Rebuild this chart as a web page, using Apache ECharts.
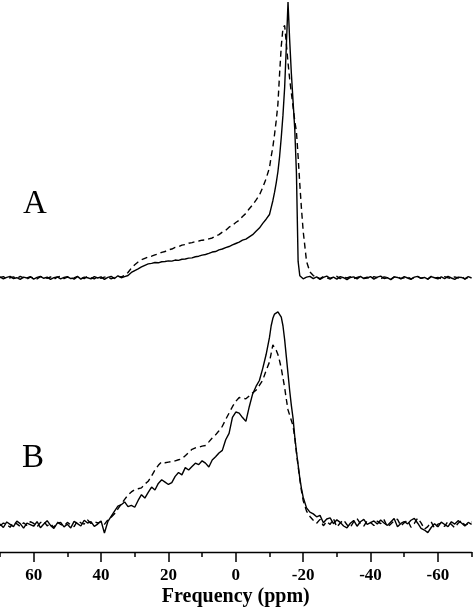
<!DOCTYPE html>
<html>
<head>
<meta charset="utf-8">
<title>Frequency (ppm)</title>
<script src="https://cdn.jsdelivr.net/npm/echarts@6/dist/echarts.min.js"></script>
<style>
  html, body { margin: 0; padding: 0; background: #fff; }
  #main { width: 474px; height: 609px; }
</style>
</head>
<body>
<div id="main"></div>
<script>
// chemical shift grid (ppm), finer near the peaks
var ppm = [
  70, 69, 68, 67, 66, 65, 64, 63, 62, 61,
  60, 59, 58, 57, 56, 55, 54, 53, 52, 51,
  50, 49, 48, 47, 46, 45, 44, 43, 42, 41,
  40, 39, 38, 37, 36, 35, 34, 33, 32, 31,
  30, 29, 28, 27, 26, 25, 24, 23, 22, 21,
  20, 19, 18, 17, 16, 15, 14, 13, 12, 11,
  10, 9, 8, 7, 6, 5, 4, 3, 2, 1,
  0, -1, -2, -3, -4, -5, -6, -7, -8, -9,
  -10,
  -10.5, -11, -11.5, -12, -12.5, -13, -13.5, -14, -14.5, -15,
  -15.5, -16, -16.5, -17, -17.5, -18, -18.5, -19, -19.5, -20,
  -21, -22, -23, -24, -25, -26, -27, -28, -29, -30,
  -31, -32, -33, -34, -35, -36, -37, -38, -39, -40,
  -41, -42, -43, -44, -45, -46, -47, -48, -49, -50,
  -51, -52, -53, -54, -55, -56, -57, -58, -59, -60,
  -61, -62, -63, -64, -65, -66, -67, -68, -69, -70
];

// axis range (ppm) and the range that carries the long labelled ticks
var axisRange = [-70, 70];
var labelRange = [-60, 60];

// spectrum A (normalised, solid peak = 100)
var aSolid = [
  0.4, -0.3, 0.2, 0.6, -0.2, 0.1, -0.5, 0.3, 0.0, 0.5,
  -0.4, 0.2, 0.6, -0.1, 0.3, -0.5, 0.1, 0.4, -0.3, 0.2,
  0.5, -0.2, 0.0, 0.6, -0.4, 0.3, 0.1, -0.3, 0.5, 0.0,
  0.4, -0.5, 0.2, 0.6, -0.2, 0.8, 0.1, 0.5, 0.9, 2.0,
  2.7, 3.3, 4.0, 4.6, 5.1, 5.3, 5.6, 5.5, 5.9, 6.0,
  6.2, 6.1, 6.5, 6.4, 6.8, 6.9, 7.2, 7.3, 7.7, 7.9,
  8.3, 8.5, 8.9, 9.4, 9.6, 10.2, 10.5, 11.0, 11.4, 12.0,
  12.5, 13.0, 13.7, 14.1, 14.9, 15.7, 16.9, 18.1, 19.8, 21.3,
  23.0,
  25.5, 28, 31, 34.5, 38.5, 44, 51, 59, 69, 84,
  100, 86, 74, 64, 54, 38, 6, 0.8, 0.2, -0.3,
  0.3, 0.6, -0.2, 0.4, -0.5, 0.2, 0.7, -0.1, 0.3, -0.4,
  0.5, 0.1, -0.6, 0.2, 0.4, -0.3, 0.6, -0.2, 0.0, 0.5,
  -0.4, 0.3, 0.7, -0.2, 0.1, -0.6, 0.4, 0.2, -0.3, 0.5,
  0.0, -0.5, 0.3, 0.6, -0.1, 0.2, -0.4, 0.5, 0.1, -0.3,
  0.4, -0.2, 0.6, 0.0, -0.5, 0.3, 0.2, -0.3, 0.5, 0.0
];
var aDash = [
  0.2, 0.5, -0.3, 0.1, 0.4, -0.2, 0.6, 0.0, -0.4, 0.3,
  0.1, -0.3, 0.5, 0.2, -0.1, 0.4, -0.5, 0.3, 0.6, -0.2,
  0.3, 0.0, -0.4, 0.5, 0.2, -0.2, 0.6, 0.1, -0.3, 0.4,
  -0.1, 0.3, 0.5, -0.3, 0.2, 0.6, 0.4, 0.9, 2.0, 3.6,
  4.8, 5.8, 6.6, 7.1, 7.6, 7.9, 8.4, 8.7, 9.3, 9.6,
  10.2, 10.5, 11.1, 11.3, 11.9, 12.1, 12.6, 12.8, 13.2, 13.4,
  13.7, 13.8, 14.2, 14.5, 15.2, 15.7, 16.6, 17.3, 18.4, 19.1,
  20.1, 20.9, 22.3, 23.4, 25.1, 26.5, 28.2, 30.0, 32.8, 36.0,
  40,
  44, 47.5, 52, 57, 63, 74, 84, 90.5, 91.5, 85,
  78, 72, 67, 62, 57, 53, 44, 34, 25, 17,
  6, 2.2, 0.9, 0.3, -0.2, 0.5, 0.1, -0.4, 0.3, 0.6,
  -0.2, 0.4, 0.0, 0.5, -0.3, 0.2, 0.6, -0.1, 0.3, -0.4,
  0.5, 0.1, -0.3, 0.4, 0.2, -0.5, 0.3, 0.6, -0.2, 0.1,
  0.4, -0.3, 0.2, 0.5, -0.1, 0.3, -0.4, 0.6, 0.0, 0.2,
  -0.3, 0.5, 0.1, -0.2, 0.4, 0.0, 0.6, -0.4, 0.2, 0.3
];

// spectrum B (normalised, solid peak = 100)
var bSolid = [
  0.5, -1.2, 1.4, 0.3, -0.8, 1.8, 0.6, -1.5, 0.9, 0.2,
  -0.6, 1.6, -1.3, 0.4, 2.0, -0.2, -1.6, 0.8, 1.2, -0.9,
  0.3, -1.4, 1.7, 0.6, -0.5, 2.2, 0.9, 1.6, -0.7, 0.4,
  1.9, -3.8, 1.5, 4.0, 6.5, 8.8, 9.5, 10.8, 8.6, 9.2,
  8.3, 11.5, 14.2, 12.6, 15.3, 17.8, 16.4, 19.5, 21.2, 20.1,
  19.0, 19.9, 22.8, 24.6, 23.5, 26.9, 25.8, 27.4, 29.0, 28.3,
  30.1, 29.0, 27.2, 30.5, 32.0, 33.8, 35.0, 40.0, 43.0, 50.5,
  53.0, 52.5, 50.4, 48.6, 55.5, 61.5, 65.0, 67.8, 73.5, 80.0,
  88.0,
  93.5, 97.0, 99.0, 98.6, 100, 99.6, 97.5, 93.5, 87, 79,
  71, 63, 56, 50, 41.5, 34.5, 28.2, 22, 17, 13,
  8.0, 6.0, 5.2, 3.8, 4.5, 1.0, 2.8, 3.3, 0.6, 2.4,
  1.2, -0.5, -1.4, 0.8, 2.1, -0.6, 1.5, 2.6, 0.3, 1.1,
  1.9, 0.4, 2.3, 0.9, -0.2, 1.4, 3.0, -0.8, 0.7, 1.6,
  0.5, 2.2, 3.1, 0.8, -1.6, -2.4, -3.6, -1.2, 0.6, -0.9,
  1.3, 0.2, -0.8, 1.5, 0.4, 2.0, 0.9, -0.5, 1.2, 0.3
];
var bDash = [
  -0.4, 0.9, 0.2, -1.1, 1.3, 0.5, -0.7, 1.0, -0.3, 1.5,
  0.7, -0.9, 1.1, 1.8, -0.4, 0.6, -1.2, 1.4, 0.3, -0.5,
  1.2, 0.1, -0.8, 1.9, 1.0, 0.4, 2.3, 0.7, 1.5, 0.9,
  1.6, 0.3, 2.4, 3.6, 5.2, 7.5, 9.8, 12.0, 14.0, 15.5,
  16.6, 17.0, 17.4, 19.2, 20.5, 23.0, 25.8, 28.0, 29.6, 29.2,
  29.5, 29.8, 30.1, 30.6, 31.0, 32.5, 34.0, 35.5, 36.2, 36.5,
  37.0, 37.3, 39.0, 40.8, 42.3, 44.2, 46.3, 49.5, 52.5, 55.5,
  58.0, 59.8, 59.5, 59.2, 60.6, 62.0, 63.2, 65.5, 68.0, 72.5,
  76.5,
  80.5, 84.5, 84.0, 82.0, 80.0, 77.0, 73.5, 69.0, 64.5, 59.0,
  54.0, 51.5, 49.0, 46.5, 41.0, 34.0, 27.5, 21.5, 16.0, 11.5,
  6.5, 4.0, 2.2, 0.8, 2.6, -0.4, 1.7, 0.2, 2.9, -1.0,
  0.9, 2.4, 0.1, -1.2, 1.6, 3.0, 0.5, -0.6, 2.0, 1.1,
  -0.3, 1.8, 0.6, 2.5, -0.9, 0.4, 1.9, 2.7, -0.5, 1.0,
  2.2, -1.1, 0.7, 3.2, 1.0, -2.0, -0.8, 1.5, -1.6, 0.4,
  0.9, -0.7, 1.8, 0.2, -1.3, 0.8, 2.1, -0.2, 0.6, 1.4
];

var panelLabels = ['A', 'B'];

function pairs(vals) {
    return ppm.map(function (p, i) { return [p, vals[i]]; });
}

var serif = '"Liberation Serif", "Times New Roman", serif';
var solidStyle = { color: '#000', width: 1.4, type: 'solid' };
var dashStyle = { color: '#000', width: 1.4, type: [6, 4] };
var black = { color: '#000', width: 1.5 };

// plot spans x = 0 .. 471.6 px for 70 .. -70 ppm; axis line at y = 552
var plotW = 471.6;
var axisY = 552;
var pxPerPpm = plotW / (axisRange[1] - axisRange[0]);
var labelLeft = (axisRange[1] - labelRange[1]) * pxPerPpm;
var labelW = (labelRange[1] - labelRange[0]) * pxPerPpm;

var myChart = echarts.init(document.getElementById('main'), null, { renderer: 'canvas' });

var option = {
    animation: false,
    backgroundColor: '#fff',
    grid: [
        // panel A: baseline at y=278, peak at y=2
        { left: 0, width: plotW, top: 2, height: 303.6 },
        // panel B: baseline at y=525, bottom edge on the axis line
        { left: 0, width: plotW, top: 290.6, height: axisY - 290.6 },
        // long ticks + labels every 20 ppm, same bottom edge as panel B
        { left: labelLeft, width: labelW, top: 290.6, height: axisY - 290.6 }
    ],
    xAxis: [
        {
            type: 'value', gridIndex: 0, min: axisRange[0], max: axisRange[1], interval: 10,
            inverse: true, show: false
        },
        {
            // axis line, short ticks every 10 ppm, axis title
            type: 'value', gridIndex: 1, position: 'bottom',
            min: axisRange[0], max: axisRange[1], interval: 10,
            inverse: true,
            name: 'Frequency (ppm)',
            nameLocation: 'middle',
            nameGap: 35,
            nameTextStyle: { fontFamily: serif, fontWeight: 'bold', fontSize: 20, color: '#000' },
            axisLine: { show: true, onZero: false, lineStyle: { color: '#000', width: 1.3 } },
            axisTick: { show: true, inside: false, length: 5, lineStyle: black },
            splitLine: { show: false },
            axisLabel: { show: false }
        },
        {
            // long ticks and labels every 20 ppm
            type: 'value', gridIndex: 2, position: 'bottom',
            min: labelRange[0], max: labelRange[1], interval: 20,
            inverse: true,
            axisLine: { show: false, onZero: false },
            axisTick: { show: true, inside: false, length: 10, lineStyle: black },
            splitLine: { show: false },
            axisLabel: {
                margin: 15,
                fontFamily: serif, fontWeight: 'bold', fontSize: 17, color: '#000'
            }
        }
    ],
    yAxis: [
        { type: 'value', gridIndex: 0, min: -10, max: 100, show: false },
        { type: 'value', gridIndex: 1, min: -12.7, max: 110, show: false },
        { type: 'value', gridIndex: 2, min: 0, max: 1, show: false }
    ],
    graphic: [
        {
            type: 'text', left: 23, top: 188,
            style: { text: panelLabels[0], font: '33px ' + serif, fill: '#000' }
        },
        {
            type: 'text', left: 22, top: 442,
            style: { text: panelLabels[1], font: '33px ' + serif, fill: '#000' }
        }
    ],
    series: [
        { name: 'A solid', type: 'line', xAxisIndex: 0, yAxisIndex: 0, data: pairs(aSolid),
          symbol: 'none', lineStyle: solidStyle, z: 3 },
        { name: 'A dashed', type: 'line', xAxisIndex: 0, yAxisIndex: 0, data: pairs(aDash),
          symbol: 'none', lineStyle: dashStyle, z: 2 },
        { name: 'B solid', type: 'line', xAxisIndex: 1, yAxisIndex: 1, data: pairs(bSolid),
          symbol: 'none', lineStyle: solidStyle, z: 3 },
        { name: 'B dashed', type: 'line', xAxisIndex: 1, yAxisIndex: 1, data: pairs(bDash),
          symbol: 'none', lineStyle: dashStyle, z: 2 }
    ]
};

myChart.setOption(option);
</script>
</body>
</html>
